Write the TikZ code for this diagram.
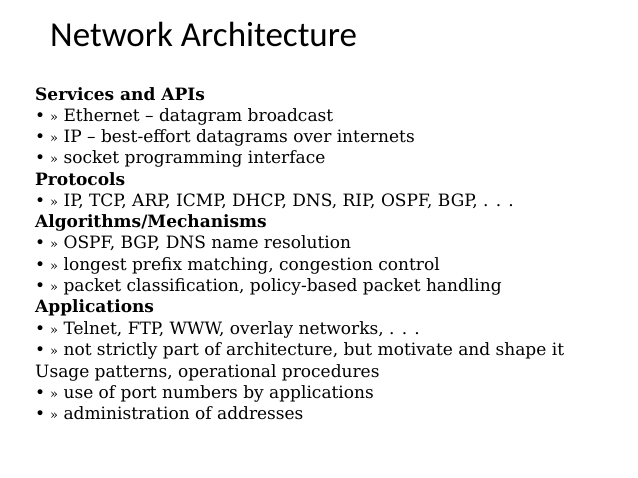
\documentclass[tikz,border=0pt]{standalone}
\usepackage{fontspec}
\setmainfont{DejaVu Serif}
\newfontfamily\titlefont{Carlito}
\begin{document}
\begin{tikzpicture}[x=1pt,y=-1pt,
  line/.style={anchor=base west,inner sep=0pt,font=\fontsize{17}{20}\selectfont},
  head/.style={line,font=\fontsize{17}{20}\selectfont\bfseries}]
\useasboundingbox (0,0) rectangle (638,478);
\node[anchor=base west,inner sep=0pt,font=\titlefont\fontsize{35}{40}\selectfont] (t) at (50,47) {Network Architecture};
\newcommand\bl[3]{\node[line] (#1) at (35,#2) {•\hspace{5pt}{\fontsize{13}{15}\selectfont »} #3};}
\node[head] (h1) at (35,101) {Services and APIs};
\bl{a1}{122}{Ethernet – datagram broadcast}
\bl{a2}{143}{IP – best-effort datagrams over internets}
\bl{a3}{164}{socket programming interface}
\node[head] (h2) at (35,186) {Protocols};
\bl{b1}{207}{IP, TCP, ARP, ICMP, DHCP, DNS, RIP, OSPF, BGP, . . .}
\node[head] (h3) at (35,228) {Algorithms/Mechanisms};
\bl{c1}{249}{OSPF, BGP, DNS name resolution}
\bl{c2}{271}{longest prefix matching, congestion control}
\bl{c3}{292}{packet classification, policy-based packet handling}
\node[head] (h4) at (35,313) {Applications};
\bl{d1}{335}{Telnet, FTP, WWW, overlay networks, . . .}
\bl{d2}{356}{not strictly part of architecture, but motivate and shape it}
\node[line] (h5) at (35,378) {Usage patterns, operational procedures};
\bl{e1}{399}{use of port numbers by applications}
\bl{e2}{420}{administration of addresses}
\end{tikzpicture}
\end{document}
